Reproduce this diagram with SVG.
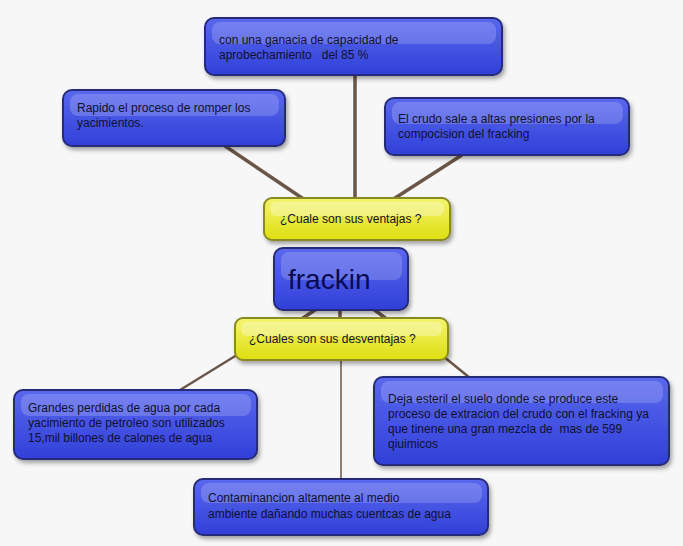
<svg xmlns="http://www.w3.org/2000/svg" width="683" height="546" viewBox="0 0 683 546">
<defs>
<linearGradient id="gb" x1="0" y1="0" x2="0" y2="1"><stop offset="0" stop-color="#5a68ee"/><stop offset="1" stop-color="#3040d8"/></linearGradient>
<linearGradient id="gy" x1="0" y1="0" x2="0" y2="1"><stop offset="0" stop-color="#f4f470"/><stop offset="1" stop-color="#dede10"/></linearGradient>
<filter id="sh" x="-10%" y="-10%" width="130%" height="140%"><feDropShadow dx="2" dy="3" stdDeviation="2" flood-color="#000" flood-opacity="0.35"/></filter>
</defs>
<style>
.b{fill:url(#gb);stroke:#262c78;stroke-width:2;filter:url(#sh)}
.y{fill:url(#gy);stroke:#8a8a20;stroke-width:2;filter:url(#sh)}
.hb{fill:#fff;opacity:0.18}
.hy{fill:#fff;opacity:0.3}
text{font-family:"Liberation Sans",Arial,sans-serif;font-size:12px;fill:#101030;white-space:pre}
.c line{stroke:#6a5648;stroke-width:3.5}
</style>
<rect width="683" height="546" fill="#f7f7f7"/>
<g class="c">
<line x1="305" y1="200" x2="225" y2="146"/>
<line x1="355" y1="200" x2="355" y2="75"/>
<line x1="392" y1="200" x2="462" y2="155"/>
<line x1="300" y1="320" x2="318" y2="308"/>
<line x1="340" y1="320" x2="340" y2="308"/>
<line x1="388" y1="320" x2="372" y2="308"/>
<line x1="245" y1="350" x2="180" y2="390" style="stroke-width:2.5"/>
<line x1="341" y1="358" x2="341" y2="480" style="stroke-width:1.5"/>
<line x1="438" y1="352" x2="470" y2="378" style="stroke-width:2.5"/>
</g>
<g id="n1"><rect class="b" x="205" y="18" width="297" height="57" rx="9"/><rect class="hb" x="212" y="22" width="284" height="22" rx="8"/><text x="219" y="44">con una ganacia de capacidad de</text><text x="219" y="59" xml:space="preserve">aprobechamiento   del 85 %</text></g>
<g id="n2"><rect class="b" x="63" y="90" width="222" height="56" rx="9"/><rect class="hb" x="70" y="94" width="209" height="22" rx="8"/><text x="77" y="112">Rapido el proceso de romper los</text><text x="77" y="127">yacimientos.</text></g>
<g id="n3"><rect class="b" x="385" y="98" width="244" height="57" rx="9"/><rect class="hb" x="392" y="102" width="231" height="22" rx="8"/><text x="398" y="123">El crudo sale a altas presiones por la</text><text x="398" y="138">compocision del fracking</text></g>
<g id="n4"><rect class="y" x="264" y="198" width="186" height="42" rx="8"/><rect class="hy" x="270" y="202" width="174" height="14" rx="6"/><text x="280" y="223">¿Cuale son sus ventajas ?</text></g>
<g id="n5"><rect class="b" x="274" y="248" width="134" height="62" rx="9"/><rect class="hb" x="281" y="252" width="121" height="28" rx="8"/><text x="288" y="289" style="font-size:28px;fill:#0a0a50">frackin</text></g>
<g id="n6"><rect class="y" x="235" y="318" width="213" height="42" rx="8"/><rect class="hy" x="241" y="322" width="201" height="14" rx="6"/><text x="249" y="343">¿Cuales son sus desventajas ?</text></g>
<g id="n7"><rect class="b" x="14" y="390" width="243" height="69" rx="9"/><rect class="hb" x="21" y="394" width="230" height="22" rx="8"/><text x="28" y="412">Grandes perdidas de agua por cada</text><text x="28" y="427">yacimiento de petroleo son utilizados</text><text x="28" y="442">15,mil billones de calones de agua</text></g>
<g id="n8"><rect class="b" x="374" y="377" width="295" height="88" rx="9"/><rect class="hb" x="381" y="381" width="282" height="22" rx="8"/><text x="388" y="403">Deja esteril el suelo donde se produce este</text><text x="388" y="418">proceso de extracion del crudo con el fracking ya</text><text x="388" y="433" xml:space="preserve">que tinene una gran mezcla de  mas de 599</text><text x="388" y="448">qiuimicos</text></g>
<g id="n9"><rect class="b" x="194" y="479" width="294" height="56" rx="9"/><rect class="hb" x="201" y="483" width="281" height="20" rx="8"/><text x="208" y="502">Contaminancion altamente al medio</text><text x="208" y="518">ambiente dañando muchas cuentcas de agua</text></g>
</svg>
